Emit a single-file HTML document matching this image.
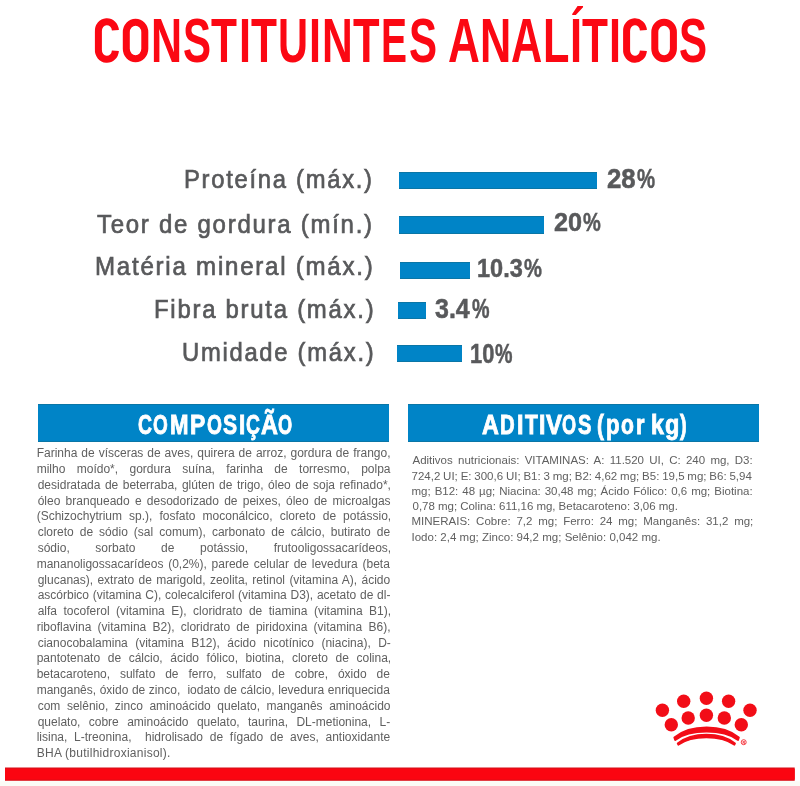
<!DOCTYPE html>
<html><head><meta charset="utf-8"><title>Constituintes Analíticos</title>
<style>
html,body{margin:0;padding:0;background:#fff;}
body{width:800px;height:786px;position:relative;overflow:hidden;font-family:"Liberation Sans",sans-serif;}
.t{position:absolute;white-space:pre;transform-origin:0 0;font-family:"Liberation Sans",sans-serif;}
.b{position:absolute;white-space:pre;font-family:"Liberation Sans",sans-serif;color:#606060;}
.bar{position:absolute;background:#0084c7;box-shadow:inset 0 1px 0 #0a76a6, inset 0 -1px 0 #0a76a6;}
.hd{position:absolute;background:#0084c7;box-shadow:inset 0 1px 0 #0a76a6, inset 0 -1px 0 #0a76a6;}
#wrap{position:absolute;left:0;top:0;width:800px;height:786px;will-change:transform;}
</style></head><body><div id="wrap">
<div class="bar" style="left:398.7px;top:171.8px;width:198px;height:17.3px"></div>
<div class="bar" style="left:399px;top:216.3px;width:144.8px;height:17.3px"></div>
<div class="bar" style="left:399.7px;top:261.8px;width:70.3px;height:17.3px"></div>
<div class="bar" style="left:398.1px;top:302.3px;width:27.8px;height:17.2px"></div>
<div class="bar" style="left:397.4px;top:344.8px;width:64.8px;height:17.3px"></div>
<div class="hd" style="left:38px;top:404.4px;width:351px;height:37.8px"></div>
<div class="hd" style="left:408px;top:404.4px;width:350.6px;height:37.8px"></div>
<div class="t" style="left:151.21px;top:8.81px;font-size:62.46px;line-height:62.46px;font-weight:700;color:#fb0813;transform:scaleX(0.6898)">N</div>
<div class="t" style="left:183.00px;top:8.81px;font-size:62.46px;line-height:62.46px;font-weight:700;color:#fb0813;transform:scaleX(0.6737)">S</div>
<div class="t" style="left:211.42px;top:8.81px;font-size:62.46px;line-height:62.46px;font-weight:700;color:#fb0813;transform:scaleX(0.6799)">T</div>
<div class="t" style="left:239.00px;top:8.81px;font-size:62.46px;line-height:62.46px;font-weight:700;color:#fb0813;transform:scaleX(0.6910)">I</div>
<div class="t" style="left:251.42px;top:8.81px;font-size:62.46px;line-height:62.46px;font-weight:700;color:#fb0813;transform:scaleX(0.6799)">T</div>
<div class="t" style="left:278.10px;top:8.81px;font-size:62.46px;line-height:62.46px;font-weight:700;color:#fb0813;transform:scaleX(0.6659)">U</div>
<div class="t" style="left:309.00px;top:8.81px;font-size:62.46px;line-height:62.46px;font-weight:700;color:#fb0813;transform:scaleX(0.6910)">I</div>
<div class="t" style="left:321.54px;top:8.81px;font-size:62.46px;line-height:62.46px;font-weight:700;color:#fb0813;transform:scaleX(0.6816)">N</div>
<div class="t" style="left:352.91px;top:8.81px;font-size:62.46px;line-height:62.46px;font-weight:700;color:#fb0813;transform:scaleX(0.6962)">T</div>
<div class="t" style="left:381.13px;top:8.81px;font-size:62.46px;line-height:62.46px;font-weight:700;color:#fb0813;transform:scaleX(0.6238)">E</div>
<div class="t" style="left:408.60px;top:8.81px;font-size:62.46px;line-height:62.46px;font-weight:700;color:#fb0813;transform:scaleX(0.6737)">S</div>
<div class="t" style="left:448.17px;top:8.81px;font-size:62.46px;line-height:62.46px;font-weight:700;color:#fb0813;transform:scaleX(0.7069)">A</div>
<div class="t" style="left:480.20px;top:8.81px;font-size:62.46px;line-height:62.46px;font-weight:700;color:#fb0813;transform:scaleX(0.6925)">N</div>
<div class="t" style="left:511.29px;top:8.81px;font-size:62.46px;line-height:62.46px;font-weight:700;color:#fb0813;transform:scaleX(0.6924)">A</div>
<div class="t" style="left:543.00px;top:8.81px;font-size:62.46px;line-height:62.46px;font-weight:700;color:#fb0813;transform:scaleX(0.6928)">L</div>
<div class="t" style="left:569.58px;top:8.81px;font-size:62.46px;line-height:62.46px;font-weight:700;color:#fb0813;transform:scaleX(0.6966)">Í</div>
<div class="t" style="left:582.02px;top:8.81px;font-size:62.46px;line-height:62.46px;font-weight:700;color:#fb0813;transform:scaleX(0.6799)">T</div>
<div class="t" style="left:609.30px;top:8.81px;font-size:62.46px;line-height:62.46px;font-weight:700;color:#fb0813;transform:scaleX(0.6910)">I</div>
<div class="t" style="left:679.20px;top:8.81px;font-size:62.46px;line-height:62.46px;font-weight:700;color:#fb0813;transform:scaleX(0.6737)">S</div>
<div class="t" style="left:183.86px;top:165.75px;font-size:26.23px;line-height:26.23px;font-weight:400;color:#58595b;letter-spacing:1.9px;-webkit-text-stroke:0.7px #58595b;transform:scaleX(0.9071)">Proteína (máx.)</div>
<div class="t" style="left:97.33px;top:210.85px;font-size:26.23px;line-height:26.23px;font-weight:400;color:#58595b;letter-spacing:1.9px;-webkit-text-stroke:0.7px #58595b;transform:scaleX(0.9146)">Teor de gordura (mín.)</div>
<div class="t" style="left:94.59px;top:252.55px;font-size:26.23px;line-height:26.23px;font-weight:400;color:#58595b;letter-spacing:1.9px;-webkit-text-stroke:0.7px #58595b;transform:scaleX(0.9194)">Matéria mineral (máx.)</div>
<div class="t" style="left:153.95px;top:295.95px;font-size:26.23px;line-height:26.23px;font-weight:400;color:#58595b;letter-spacing:1.9px;-webkit-text-stroke:0.7px #58595b;transform:scaleX(0.9127)">Fibra bruta (máx.)</div>
<div class="t" style="left:181.59px;top:338.65px;font-size:26.23px;line-height:26.23px;font-weight:400;color:#58595b;letter-spacing:1.9px;-webkit-text-stroke:0.7px #58595b;transform:scaleX(0.9074)">Umidade (máx.)</div>
<div class="t" style="left:607.28px;top:164.72px;font-size:27.1px;line-height:27.1px;font-weight:700;color:#58595b;-webkit-text-stroke:0.5px #58595b;transform:scaleX(0.9527)">28</div>
<div class="t" style="left:637.33px;top:164.72px;font-size:27.1px;line-height:27.1px;font-weight:700;color:#58595b;-webkit-text-stroke:0.5px #58595b;transform:scaleX(0.7514)">%</div>
<div class="t" style="left:553.61px;top:208.92px;font-size:26.5px;line-height:26.5px;font-weight:700;color:#58595b;-webkit-text-stroke:0.5px #58595b;transform:scaleX(0.9518)">20</div>
<div class="t" style="left:582.83px;top:208.92px;font-size:26.5px;line-height:26.5px;font-weight:700;color:#58595b;-webkit-text-stroke:0.5px #58595b;transform:scaleX(0.7547)">%</div>
<div class="t" style="left:477.32px;top:254.69px;font-size:26.66px;line-height:26.66px;font-weight:700;color:#58595b;-webkit-text-stroke:0.5px #58595b;transform:scaleX(0.8821)">10.3</div>
<div class="t" style="left:524.23px;top:254.69px;font-size:26.66px;line-height:26.66px;font-weight:700;color:#58595b;-webkit-text-stroke:0.5px #58595b;transform:scaleX(0.7569)">%</div>
<div class="t" style="left:434.66px;top:294.88px;font-size:27.26px;line-height:27.26px;font-weight:700;color:#58595b;-webkit-text-stroke:0.5px #58595b;transform:scaleX(0.9166)">3.4</div>
<div class="t" style="left:472.24px;top:294.88px;font-size:27.26px;line-height:27.26px;font-weight:700;color:#58595b;-webkit-text-stroke:0.5px #58595b;transform:scaleX(0.7236)">%</div>
<div class="t" style="left:469.51px;top:339.71px;font-size:27.1px;line-height:27.1px;font-weight:700;color:#58595b;-webkit-text-stroke:0.5px #58595b;transform:scaleX(0.8090)">10</div>
<div class="t" style="left:494.74px;top:339.71px;font-size:27.1px;line-height:27.1px;font-weight:700;color:#58595b;-webkit-text-stroke:0.5px #58595b;transform:scaleX(0.7256)">%</div>
<div class="t" style="left:137.60px;top:410.59px;font-size:27.25px;line-height:27.25px;font-weight:700;color:#ffffff;-webkit-text-stroke:0.9px #ffffff;transform:scaleX(0.7103)">C</div>
<div class="t" style="left:153.25px;top:410.59px;font-size:27.25px;line-height:27.25px;font-weight:700;color:#ffffff;-webkit-text-stroke:0.9px #ffffff;transform:scaleX(0.6972)">O</div>
<div class="t" style="left:169.52px;top:410.59px;font-size:27.25px;line-height:27.25px;font-weight:700;color:#ffffff;-webkit-text-stroke:0.9px #ffffff;transform:scaleX(0.8150)">M</div>
<div class="t" style="left:190.14px;top:410.59px;font-size:27.25px;line-height:27.25px;font-weight:700;color:#ffffff;-webkit-text-stroke:0.9px #ffffff;transform:scaleX(0.8402)">P</div>
<div class="t" style="left:206.99px;top:410.59px;font-size:27.25px;line-height:27.25px;font-weight:700;color:#ffffff;-webkit-text-stroke:0.9px #ffffff;transform:scaleX(0.7048)">O</div>
<div class="t" style="left:223.32px;top:410.59px;font-size:27.25px;line-height:27.25px;font-weight:700;color:#ffffff;-webkit-text-stroke:0.9px #ffffff;transform:scaleX(0.7746)">S</div>
<div class="t" style="left:238.91px;top:410.59px;font-size:27.25px;line-height:27.25px;font-weight:700;color:#ffffff;-webkit-text-stroke:0.9px #ffffff;transform:scaleX(0.8206)">I</div>
<div class="t" style="left:246.40px;top:410.59px;font-size:27.25px;line-height:27.25px;font-weight:700;color:#ffffff;-webkit-text-stroke:0.9px #ffffff;transform:scaleX(0.7076)">Ç</div>
<div class="t" style="left:260.95px;top:410.59px;font-size:27.25px;line-height:27.25px;font-weight:700;color:#ffffff;-webkit-text-stroke:0.9px #ffffff;transform:scaleX(0.8602)">Ã</div>
<div class="t" style="left:277.62px;top:410.59px;font-size:27.25px;line-height:27.25px;font-weight:700;color:#ffffff;-webkit-text-stroke:0.9px #ffffff;transform:scaleX(0.6668)">O</div>
<div class="t" style="left:481.60px;top:410.59px;font-size:27.25px;line-height:27.25px;font-weight:700;color:#ffffff;-webkit-text-stroke:0.9px #ffffff;transform:scaleX(0.8576)">A</div>
<div class="t" style="left:499.61px;top:410.59px;font-size:27.25px;line-height:27.25px;font-weight:700;color:#ffffff;-webkit-text-stroke:0.9px #ffffff;transform:scaleX(0.7462)">D</div>
<div class="t" style="left:516.97px;top:410.59px;font-size:27.25px;line-height:27.25px;font-weight:700;color:#ffffff;-webkit-text-stroke:0.9px #ffffff;transform:scaleX(0.8514)">I</div>
<div class="t" style="left:524.51px;top:410.59px;font-size:27.25px;line-height:27.25px;font-weight:700;color:#ffffff;-webkit-text-stroke:0.9px #ffffff;transform:scaleX(0.7704)">T</div>
<div class="t" style="left:538.89px;top:410.59px;font-size:27.25px;line-height:27.25px;font-weight:700;color:#ffffff;-webkit-text-stroke:0.9px #ffffff;transform:scaleX(0.8411)">I</div>
<div class="t" style="left:545.76px;top:410.59px;font-size:27.25px;line-height:27.25px;font-weight:700;color:#ffffff;-webkit-text-stroke:0.9px #ffffff;transform:scaleX(0.8838)">V</div>
<div class="t" style="left:562.02px;top:410.59px;font-size:27.25px;line-height:27.25px;font-weight:700;color:#ffffff;-webkit-text-stroke:0.9px #ffffff;transform:scaleX(0.6642)">O</div>
<div class="t" style="left:577.69px;top:410.59px;font-size:27.25px;line-height:27.25px;font-weight:700;color:#ffffff;-webkit-text-stroke:0.9px #ffffff;transform:scaleX(0.7363)">S</div>
<div class="t" style="left:597.31px;top:410.59px;font-size:27.25px;line-height:27.25px;font-weight:700;color:#ffffff;-webkit-text-stroke:0.9px #ffffff;transform:scaleX(0.7578)">(</div>
<div class="t" style="left:606.42px;top:410.59px;font-size:27.25px;line-height:27.25px;font-weight:700;color:#ffffff;-webkit-text-stroke:0.9px #ffffff;transform:scaleX(0.8142)">p</div>
<div class="t" style="left:621.39px;top:410.59px;font-size:27.25px;line-height:27.25px;font-weight:700;color:#ffffff;-webkit-text-stroke:0.9px #ffffff;transform:scaleX(0.7746)">o</div>
<div class="t" style="left:635.85px;top:410.59px;font-size:27.25px;line-height:27.25px;font-weight:700;color:#ffffff;-webkit-text-stroke:0.9px #ffffff;transform:scaleX(0.8005)">r</div>
<div class="t" style="left:651.29px;top:410.59px;font-size:27.25px;line-height:27.25px;font-weight:700;color:#ffffff;-webkit-text-stroke:0.9px #ffffff;transform:scaleX(0.8510)">k</div>
<div class="t" style="left:664.99px;top:410.59px;font-size:27.25px;line-height:27.25px;font-weight:700;color:#ffffff;-webkit-text-stroke:0.9px #ffffff;transform:scaleX(0.8594)">g</div>
<div class="t" style="left:679.64px;top:410.59px;font-size:27.25px;line-height:27.25px;font-weight:700;color:#ffffff;-webkit-text-stroke:0.9px #ffffff;transform:scaleX(0.7330)">)</div>
<div class="b" style="left:36.70px;top:447.20px;font-size:12.0px;line-height:12.0px;letter-spacing:0.000px;word-spacing:0.630px">Farinha de vísceras de aves, quirera de arroz, gordura de frango,</div>
<div class="b" style="left:36.70px;top:462.99px;font-size:12.0px;line-height:12.0px;letter-spacing:0.000px;word-spacing:8.043px">milho moído*, gordura suína, farinha de torresmo, polpa</div>
<div class="b" style="left:37.70px;top:478.78px;font-size:12.0px;line-height:12.0px;letter-spacing:0.000px;word-spacing:1.144px">desidratada de beterraba, glúten de trigo, óleo de soja refinado*,</div>
<div class="b" style="left:37.70px;top:494.57px;font-size:12.0px;line-height:12.0px;letter-spacing:0.000px;word-spacing:1.913px">óleo branqueado e desodorizado de peixes, óleo de microalgas</div>
<div class="b" style="left:36.70px;top:510.36px;font-size:12.0px;line-height:12.0px;letter-spacing:0.000px;word-spacing:3.717px">(Schizochytrium sp.), fosfato moconálcico, cloreto de potássio,</div>
<div class="b" style="left:37.70px;top:526.15px;font-size:12.0px;line-height:12.0px;letter-spacing:0.000px;word-spacing:2.700px">cloreto de sódio (sal comum), carbonato de cálcio, butirato de</div>
<div class="b" style="left:37.70px;top:541.94px;font-size:12.0px;line-height:12.0px;letter-spacing:0.000px;word-spacing:22.325px">sódio, sorbato de potássio, frutooligossacarídeos,</div>
<div class="b" style="left:36.70px;top:557.73px;font-size:12.0px;line-height:12.0px;letter-spacing:0.000px;word-spacing:1.383px">mananoligossacarídeos (0,2%), parede celular de levedura (beta</div>
<div class="b" style="left:37.70px;top:573.52px;font-size:12.0px;line-height:12.0px;letter-spacing:0.000px;word-spacing:1.038px">glucanas), extrato de marigold, zeolita, retinol (vitamina A), ácido</div>
<div class="b" style="left:37.70px;top:589.31px;font-size:12.0px;line-height:12.0px;letter-spacing:0.000px;word-spacing:0.413px">ascórbico (vitamina C), colecalciferol (vitamina D3), acetato de dl-</div>
<div class="b" style="left:37.70px;top:605.10px;font-size:12.0px;line-height:12.0px;letter-spacing:0.000px;word-spacing:3.163px">alfa tocoferol (vitamina E), cloridrato de tiamina (vitamina B1),</div>
<div class="b" style="left:36.70px;top:620.89px;font-size:12.0px;line-height:12.0px;letter-spacing:0.000px;word-spacing:2.900px">riboflavina (vitamina B2), cloridrato de piridoxina (vitamina B6),</div>
<div class="b" style="left:37.70px;top:636.68px;font-size:12.0px;line-height:12.0px;letter-spacing:0.000px;word-spacing:4.050px">cianocobalamina (vitamina B12), ácido nicotínico (niacina), D-</div>
<div class="b" style="left:36.70px;top:652.47px;font-size:12.0px;line-height:12.0px;letter-spacing:0.000px;word-spacing:4.288px">pantotenato de cálcio, ácido fólico, biotina, cloreto de colina,</div>
<div class="b" style="left:36.70px;top:668.26px;font-size:12.0px;line-height:12.0px;letter-spacing:0.000px;word-spacing:6.538px">betacaroteno, sulfato de ferro, sulfato de cobre, óxido de</div>
<div class="b" style="left:36.70px;top:684.05px;font-size:12.0px;line-height:12.0px;letter-spacing:0.000px;word-spacing:0.256px">manganês, óxido de zinco,  iodato de cálcio, levedura enriquecida</div>
<div class="b" style="left:37.70px;top:699.84px;font-size:12.0px;line-height:12.0px;letter-spacing:0.000px;word-spacing:3.217px">com selênio, zinco aminoácido quelato, manganês aminoácido</div>
<div class="b" style="left:37.70px;top:715.63px;font-size:12.0px;line-height:12.0px;letter-spacing:0.000px;word-spacing:5.050px">quelato, cobre aminoácido quelato, taurina, DL-metionina, L-</div>
<div class="b" style="left:36.70px;top:731.42px;font-size:12.0px;line-height:12.0px;letter-spacing:0.000px;word-spacing:3.413px">lisina, L-treonina,  hidrolisado de fígado de aves, antioxidante</div>
<div class="b" style="left:36.70px;top:747.21px;font-size:12.0px;line-height:12.0px;letter-spacing:0.263px;word-spacing:0.000px">BHA (butilhidroxianisol).</div>
<div class="b" style="left:412.50px;top:455.33px;font-size:11.5px;line-height:11.5px;letter-spacing:0.000px;word-spacing:2.056px">Aditivos nutricionais: VITAMINAS: A: 11.520 UI, C: 240 mg, D3:</div>
<div class="b" style="left:411.50px;top:470.59px;font-size:11.5px;line-height:11.5px;letter-spacing:0.000px;word-spacing:-0.367px">724,2 UI; E: 300,6 UI; B1: 3 mg; B2: 4,62 mg; B5: 19,5 mg; B6: 5,94</div>
<div class="b" style="left:411.50px;top:485.85px;font-size:11.5px;line-height:11.5px;letter-spacing:0.000px;word-spacing:0.773px">mg; B12: 48 µg; Niacina: 30,48 mg; Ácido Fólico: 0,6 mg; Biotina:</div>
<div class="b" style="left:412.50px;top:501.11px;font-size:11.5px;line-height:11.5px;letter-spacing:0.000px;word-spacing:-0.143px">0,78 mg; Colina: 611,16 mg, Betacaroteno: 3,06 mg.</div>
<div class="b" style="left:411.50px;top:516.37px;font-size:11.5px;line-height:11.5px;letter-spacing:0.000px;word-spacing:2.611px">MINERAIS: Cobre: 7,2 mg; Ferro: 24 mg; Manganês: 31,2 mg;</div>
<div class="b" style="left:411.50px;top:531.62px;font-size:11.5px;line-height:11.5px;letter-spacing:0.000px;word-spacing:0.062px">Iodo: 2,4 mg; Zinco: 94,2 mg; Selênio: 0,042 mg.</div>
<svg style="position:absolute;left:0;top:0" width="800" height="786" viewBox="0 0 800 786">
<!--TITLEGLYPHS-->
<g fill="none" stroke="#fb0813" stroke-width="7">
<rect x="126.30" y="22.30" width="18.50" height="36.40" rx="9.25" ry="9.99"/>
<rect x="654.80" y="22.30" width="18.60" height="36.40" rx="9.30" ry="10.04"/>
<path d="M115.40 30.28 A8.50 9.18 0 0 0 98.40 31.48 L98.40 49.52 A8.50 9.18 0 0 0 115.40 50.72"/>
<path d="M643.40 30.17 A8.40 9.07 0 0 0 626.60 31.37 L626.60 49.63 A8.40 9.07 0 0 0 643.40 50.83"/>
</g>
<!--/TITLEGLYPHS-->
<g fill="#f20d17">
<circle cx="706.4" cy="698.3" r="6.7"/><circle cx="683.7" cy="701.2" r="6.7"/><circle cx="728.6" cy="701.2" r="6.7"/>
<circle cx="662.4" cy="710.2" r="6.7"/><circle cx="750" cy="710.2" r="6.7"/>
<circle cx="706.4" cy="715.3" r="6.7"/><circle cx="688.2" cy="718" r="6.7"/><circle cx="724.3" cy="718" r="6.7"/>
<circle cx="671.3" cy="724.7" r="6.7"/><circle cx="741.3" cy="724.7" r="6.7"/>
</g>
<g fill="#f20d17" stroke="#f20d17" stroke-linejoin="round">
<path d="M674.4 737.4 A40 24.6 0 0 1 738.8 737.4 L738.0 739.9 A38 19 0 0 0 675.2 739.9 Z" stroke-width="2"/>
<path d="M677.6 743.4 A36 22.2 0 0 1 735.1 743.4 L734.4 744.8 A35 18.3 0 0 0 678.3 744.8 Z" stroke-width="1.6"/>
</g>
<circle cx="743.7" cy="742.2" r="2.5" fill="none" stroke="#f20d17" stroke-width="0.8"/>
<text x="743.7" y="743.5" font-family="Liberation Sans, sans-serif" font-size="3.6" font-weight="700" fill="#f20d17" text-anchor="middle">R</text>
<rect x="5" y="767.5" width="789.7" height="13.3" fill="#dc0f18"/>
<rect x="5" y="768.8" width="789.7" height="10.8" fill="#fb0511"/>
<rect x="0" y="781.3" width="800" height="4.7" fill="#fbfbf6"/>
</svg>
</div></body></html>
